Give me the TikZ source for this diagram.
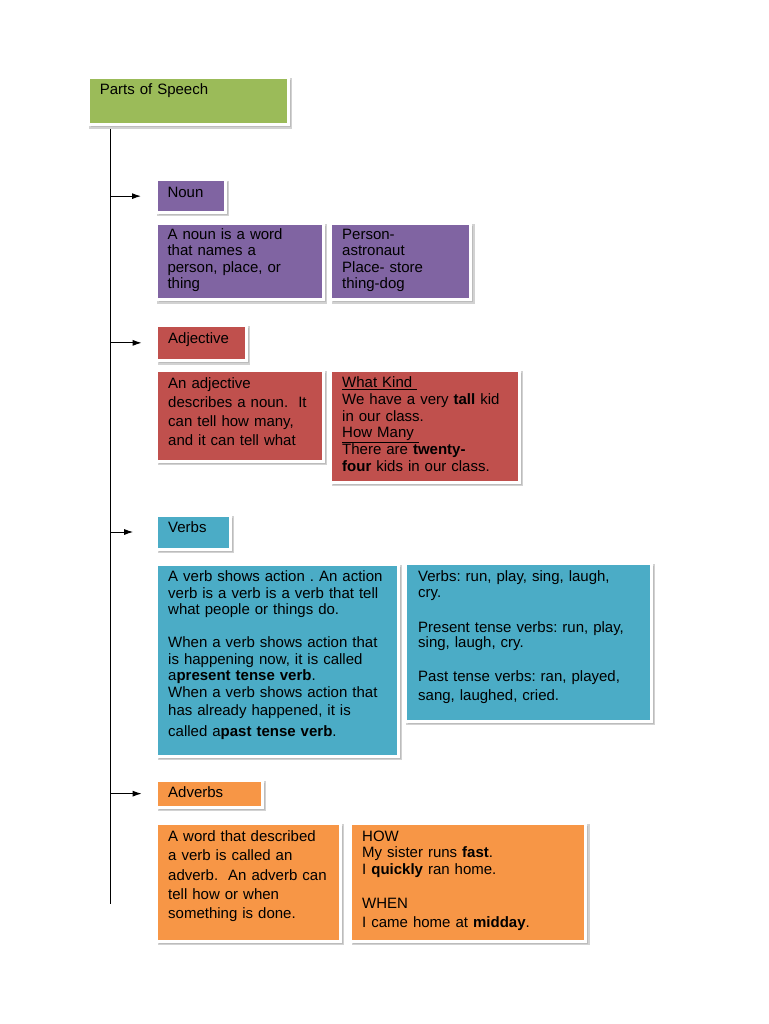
\documentclass[tikz,border=0pt]{standalone}
\usepackage{fontspec}
\setmainfont{Liberation Sans}
\usetikzlibrary{arrows.meta,shadows}
\definecolor{titlegreen}{HTML}{9BBB59}
\definecolor{nounpurple}{HTML}{8064A2}
\definecolor{adjred}{HTML}{C0504D}
\definecolor{verbblue}{HTML}{4BACC6}
\definecolor{advorange}{HTML}{F79646}
\frenchspacing

\begin{document}
\begin{tikzpicture}[x=1pt,y=-1pt,
   tile/.style={draw=white,line width=3pt,anchor=north west,
                inner xsep=11.5pt,inner ysep=0pt,align=left,
                font=\fontsize{15}{16.5}\selectfont,
                drop shadow={shadow xshift=2.5pt,shadow yshift=-2.5pt,fill=black!35,draw=black!35},
                execute at begin node={\rightskip=0pt plus 1fil minus 100pt}},
   leading/.style={font=\fontsize{15}{#1}\selectfont},
   arr/.style={-{Latex[length=9pt,width=6pt]},line width=1pt}
 ]
  \useasboundingbox (0,0) rectangle (768,1024);
  \node[tile,fill=titlegreen,text width=176.7pt,text height=17.7pt,text depth=29.7pt] (title) at (86.8,75.8) {Parts of Speech};

  \node[tile,fill=nounpurple,text width=46pt,text height=17.7pt,text depth=14.6pt] (nounHead) at (154.5,178.5) {Noun};
  \node[tile,fill=nounpurple,text width=144pt,text height=16pt,text depth=60.4pt] (nounDef) at (154.5,221.8)
    {A noun is a word\\that names a\\person, place, or\\thing};
  \node[tile,fill=nounpurple,text width=117pt,text height=16pt,text depth=60.4pt] (nounEx) at (329.2,221.8)
    {Person-\\astronaut\\Place- store\\thing-dog};

  \node[tile,fill=adjred,text width=66.6pt,text height=18.3pt,text depth=17.4pt] (adjHead) at (155.2,323.5) {Adjective};
  \node[tile,fill=adjred,leading=19,text width=143.3pt,text height=18.3pt,text depth=73pt] (adjDef) at (155.2,368.5)
    {An adjective\\describes a noun.\ \ It\\can tell how many,\\and it can tell what};
  \node[tile,fill=adjred,leading=16.7,text width=165.3pt,text height=17.7pt,text depth=94.3pt] (adjEx) at (329.2,368.5)
    {\underline{What Kind\ }\\We have a very \textbf{tall} kid\\in our class.\\\underline{How Many\ }\\There are \textbf{twenty-}\\\textbf{four} kids in our class.};

  \node[tile,fill=verbblue,text width=50.6pt,text height=17.7pt,text depth=16.3pt] (verbHead) at (155.2,513.5) {Verbs};
  \node[tile,fill=verbblue,text width=218.3pt,text height=17.7pt,text depth=174.6pt] (verbDef) at (155.2,562.5)
    {A verb shows action . An action\\verb is a verb is a verb that tell\\what people or things do.\\[16.6pt]When a verb shows action that\\is happening now, it is called\\a\textbf{present tense verb}.\\When a verb shows action that\\[1.5pt]has already happened, it is\\[4.5pt]called a\textbf{past tense verb}.};
  \node[tile,fill=verbblue,leading=15.3,inner xsep=13.2pt,text width=219.9pt,text height=18.4pt,text depth=139.6pt] (verbEx) at (403.5,561.8)
    {Verbs: run, play, sing, laugh,\\cry.\\[19.7pt]Present tense verbs: run, play,\\sing, laugh, cry.\\[19.1pt]Past tense verbs: ran, played,\\[3pt]sang, laughed, cried.};

  \node[tile,fill=advorange,text width=82.6pt,text height=17.3pt,text depth=10pt] (advHead) at (155.2,778.5) {Adverbs};
  \node[tile,fill=advorange,leading=19.2,text width=160.6pt,text height=18.4pt,text depth=99.6pt] (advDef) at (155.2,821.8)
    {A word that described\\a verb is called an\\adverb.\ \ An adverb can\\tell how or when\\something is done.};
  \node[tile,fill=advorange,leading=16.7,text width=212pt,text height=17.7pt,text depth=100.3pt] (advEx) at (349.2,821.8)
    {HOW\\My sister runs \textbf{fast}.\\I \textbf{quickly} ran home.\\[17.3pt]WHEN\\[2.3pt]I came home at \textbf{midday}.};

  \coordinate (trunkTop) at ([xshift=24pt,yshift=-3pt]title.south west);
  \coordinate (trunkEnd) at (110.8,904);
  \draw[line width=1pt] (trunkTop) -- (trunkEnd);
  \draw[arr] (trunkTop |- nounHead.west) -- ([xshift=-13.5pt]nounHead.west);
  \draw[arr] (trunkTop |- adjHead.west) -- ([xshift=-13.5pt]adjHead.west);
  \draw[arr] (trunkTop |- verbHead.west) -- ([xshift=-22pt]verbHead.west);
  \draw[arr] (trunkTop |- advHead.west) -- ([xshift=-13.5pt]advHead.west);
 \end{tikzpicture}
\end{document}
